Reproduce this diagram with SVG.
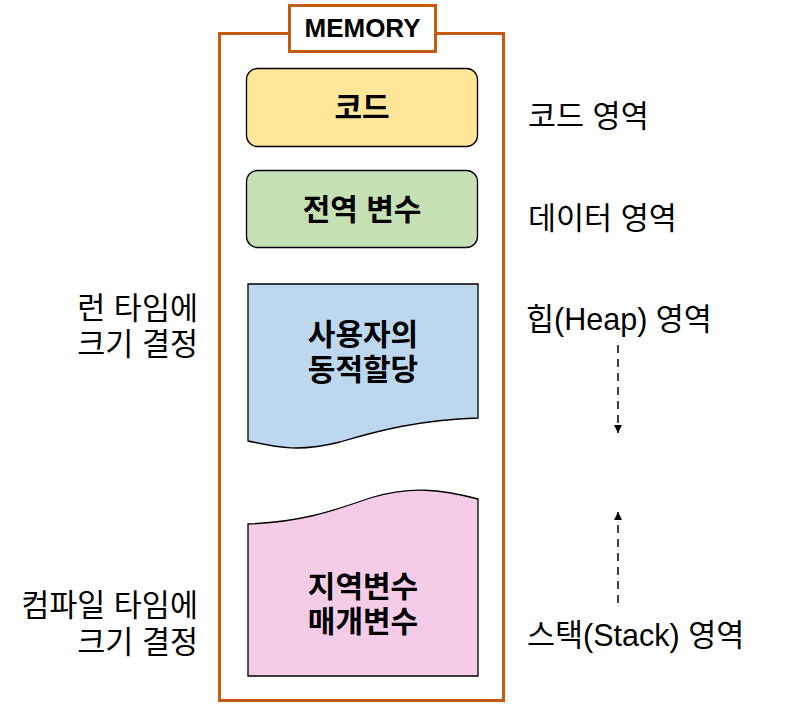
<svg xmlns="http://www.w3.org/2000/svg" width="800" height="704" viewBox="0 0 800 704">
<style>
.lbl{font-family:"Liberation Sans","Noto Sans CJK KR",sans-serif;font-size:30.5px;fill:#000}
.bt{font-family:"Liberation Sans","Noto Sans CJK KR",sans-serif;font-size:30px;font-weight:bold;fill:#000;text-anchor:middle}
.box{stroke:#000;stroke-width:1.3}
.conn{stroke:#000;stroke-width:1.5;stroke-dasharray:8 6;fill:none}
</style>
<defs>
<marker id="ah" viewBox="0 0 10 10" refX="10" refY="5" markerWidth="9" markerHeight="8" orient="auto" markerUnits="userSpaceOnUse">
<path d="M0,0 L10,5 L0,10 z" fill="#000"/>
</marker>
</defs>
<rect width="800" height="704" fill="#fff"/>
<g id="memory">
<rect x="219.5" y="33.5" width="284" height="667" fill="none" stroke="#c55a11" stroke-width="3"/>
<rect x="289.5" y="5.5" width="146" height="46" fill="#fff" stroke="#c55a11" stroke-width="3"/>
<text x="362.5" y="37" text-anchor="middle" style="font-family:'Liberation Sans',sans-serif;font-weight:bold;font-size:26px">MEMORY</text>
</g>
<g id="code">
<rect class="box" x="246.5" y="68.5" width="231" height="78" rx="11" fill="#ffe699"/>
<text class="bt" x="362" y="118">코드</text>
</g>
<g id="data">
<rect class="box" x="246.5" y="170.5" width="231" height="77" rx="11" fill="#c5e0b4"/>
<text class="bt" x="362" y="220">전역 변수</text>
</g>
<g id="heap">
<path class="box" d="M248,284 L478,284 L478,418 C420,420 380,430 340,442 C300,452 280,448 248,441 Z" fill="#bdd7ee"/>
<text class="bt" x="363" y="345">사용자의</text>
<text class="bt" x="363" y="380">동적할당</text>
</g>
<g id="stack">
<path class="box" d="M248,524 C300,522 330,512 370,498 C410,486 440,489 478,499 L478,676 L248,676 Z" fill="#f4cce8"/>
<text class="bt" x="363" y="597">지역변수</text>
<text class="bt" x="363" y="632">매개변수</text>
</g>
<g id="labels">
<text class="lbl" x="528" y="127">코드 영역</text>
<text class="lbl" x="528" y="229">데이터 영역</text>
<text class="lbl" x="526" y="330">힙(Heap) 영역</text>
<text class="lbl" x="527" y="646">스택(Stack) 영역</text>
<text class="lbl" x="198" y="319" text-anchor="end">런 타임에</text>
<text class="lbl" x="198" y="355" text-anchor="end">크기 결정</text>
<text class="lbl" x="198" y="616" text-anchor="end">컴파일 타임에</text>
<text class="lbl" x="198" y="653" text-anchor="end">크기 결정</text>
</g>
<g id="connectors">
<line class="conn" x1="618" y1="345" x2="618" y2="433" marker-end="url(#ah)"/>
<line class="conn" x1="618" y1="603" x2="618" y2="512" marker-end="url(#ah)"/>
</g>
</svg>
